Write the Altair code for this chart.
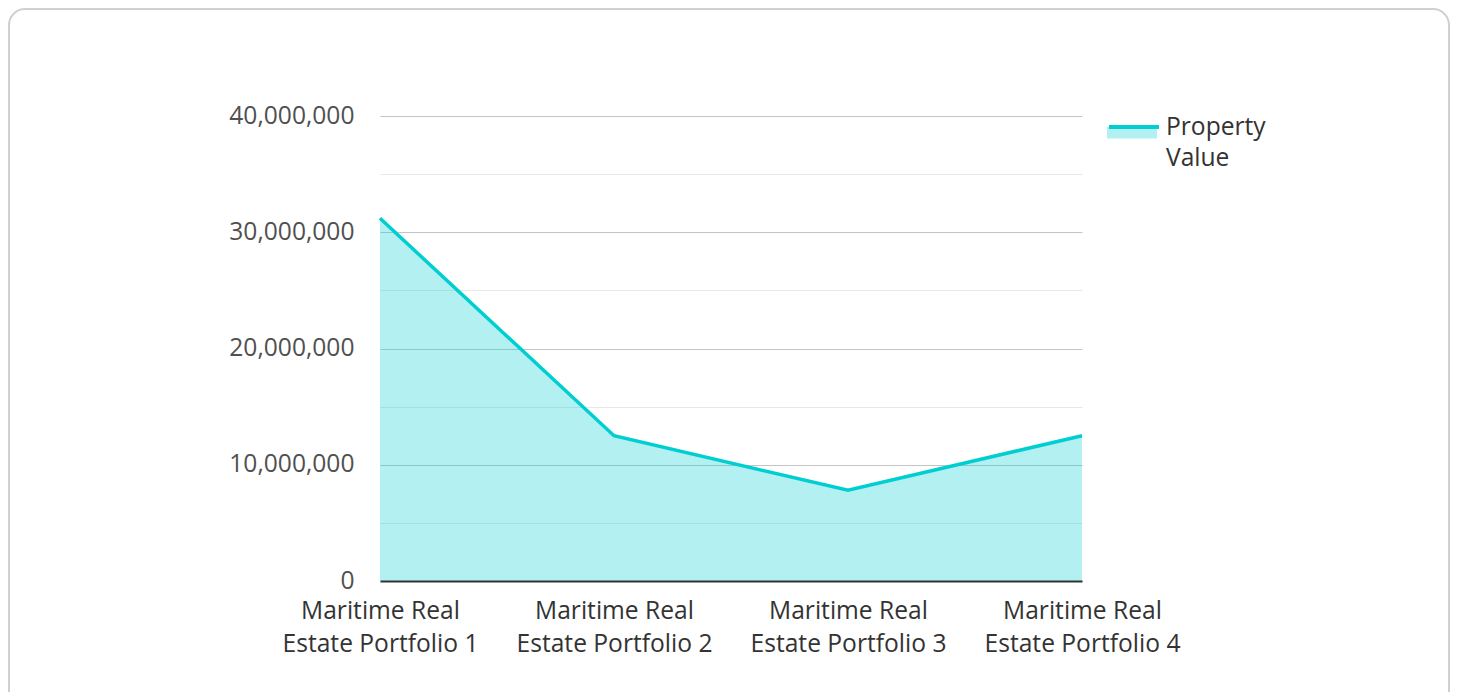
import altair as alt
import pandas as pd

categories = [
    "Maritime Real Estate Portfolio 1",
    "Maritime Real Estate Portfolio 2",
    "Maritime Real Estate Portfolio 3",
    "Maritime Real Estate Portfolio 4",
]
values = [31200000, 12500000, 7800000, 12500000]
series_name = "Property Value"
y_ticks = [0, 5000000, 10000000, 15000000, 20000000, 25000000, 30000000, 35000000, 40000000]

df = pd.DataFrame({
    "portfolio": categories,
    "value": values,
    "series": [series_name] * len(categories),
    "series_fill": [series_name] * len(categories),
})

LINE = "#00CED1"
FONT = "Open Sans"
FS = 24.6

x_enc = alt.X(
    "portfolio:N",
    sort=categories,
    scale=alt.Scale(type="point", padding=0),
    axis=alt.Axis(
        title=None, labelAngle=0, grid=False, ticks=False, tickSize=0,
        labelExpr="[slice(datum.label, 0, 13), slice(datum.label, 14)]",
        labelFontSize=FS, labelColor="#333", labelFont=FONT, labelLimit=400,
        labelLineHeight=33, labelBaseline="top", labelPadding=18,
        labelOverlap=False, domainColor="#333", domainWidth=2, zindex=1,
    ),
)
y_enc = alt.Y(
    "value:Q",
    scale=alt.Scale(domain=[0, 40000000], nice=False),
    axis=alt.Axis(
        title=None, values=y_ticks, format=",d",
        labelExpr="datum.value % 10000000 === 0 ? datum.label : ''",
        gridColor={"condition": {"test": "datum.value % 10000000 === 0", "value": "#c4c4c4"}, "value": "#e8e8e8"},
        gridWidth=1, domain=False, ticks=False, tickSize=0, labelPadding=26,
        labelFontSize=FS, labelColor="#505050", labelFont=FONT,
    ),
)

legend_common = dict(
    title=None, orient="none", legendX=727, legendY=-15, padding=0,
    symbolSize=2500, labelFontSize=FS, labelColor="#333", labelFont=FONT,
    labelLimit=400, labelOffset=5, labelBaseline="middle",
)

area = alt.Chart(df).mark_area(opacity=0.3).encode(
    x=x_enc,
    y=y_enc,
    fill=alt.Fill(
        "series_fill:N",
        scale=alt.Scale(range=[LINE]),
        legend=alt.Legend(
            symbolType="M-1,0.04L1,0.04L1,0.5L-1,0.5Z",
            symbolOpacity=0.3, symbolStrokeWidth=0, labelExpr="''",
            **legend_common,
        ),
    ),
)

line = alt.Chart(df).mark_line(strokeWidth=3.5).encode(
    x=x_enc,
    y=y_enc,
    stroke=alt.Stroke(
        "series:N",
        scale=alt.Scale(range=[LINE]),
        legend=alt.Legend(
            symbolType="M-1,-0.04L1,-0.04",
            symbolStrokeWidth=4, labelExpr="split(datum.label, ' ')",
            **legend_common,
        ),
    ),
)

border_df = pd.DataFrame({"k": [0]})
border = alt.Chart(border_df).mark_rect(
    fill="white", fillOpacity=0, stroke="#d0d0d0", strokeWidth=2, cornerRadius=16
).encode(
    x=alt.value(-371), x2=alt.value(1069), y=alt.value(-107), y2=alt.value(600)
)

chart = alt.layer(area, line, border).properties(
    width=702,
    height=465,
    autosize=alt.AutoSizeParams(type="none"),
    padding={"left": 372, "top": 108, "right": 368, "bottom": 111},
).configure(
    font=FONT,
    style={"guide-label": {"lineHeight": 31}},
).configure_view(stroke=None)

chart.save("out.html", embed_options={"renderer": "svg", "actions": False})
